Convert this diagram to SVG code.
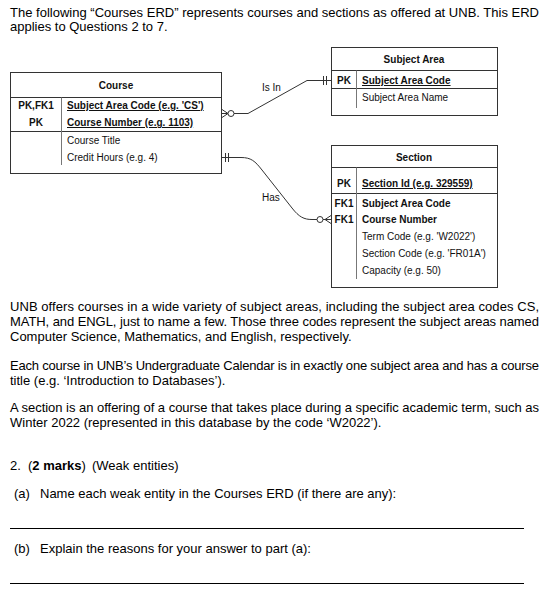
<svg xmlns="http://www.w3.org/2000/svg" width="549" height="594" viewBox="0 0 549 594">
<style>
.t{font-family:"Liberation Sans",Arial,sans-serif;font-size:13px;fill:#000}
.e{font-family:"Liberation Sans",Arial,sans-serif;font-size:10px;fill:#111}
.b{font-weight:bold}
.u{text-decoration:underline}
.c{text-anchor:middle}
.box{fill:#fff;stroke:#333;stroke-width:1}
.ln{stroke:#333;stroke-width:1;fill:none}
.vd{stroke:#777;stroke-width:1}
.conn{stroke:#333;stroke-width:1;fill:none}
</style>
<rect width="549" height="594" fill="#fff"/>
<g id="intro">
<text class="t" x="10" y="17" textLength="529" lengthAdjust="spacing">The following “Courses ERD” represents courses and sections as offered at UNB. This ERD</text>
<text class="t" x="10" y="31">applies to Questions 2 to 7.</text>
</g>
<g id="course">
<rect class="box" x="10.5" y="72.5" width="211" height="101"/>
<line class="ln" x1="10.5" y1="97.5" x2="221.5" y2="97.5"/>
<line class="ln" x1="10.5" y1="131.5" x2="221.5" y2="131.5"/>
<line class="vd" x1="61.5" y1="97.5" x2="61.5" y2="165"/>
<text class="e b c" x="116" y="89">Course</text>
<text class="e b c" x="36" y="109">PK,FK1</text>
<text class="e b c" x="36" y="126">PK</text>
<text class="e b u" x="67" y="109">Subject Area Code (e.g. 'CS')</text>
<text class="e b u" x="67" y="126">Course Number (e.g. 1103)</text>
<text class="e" x="67" y="144">Course Title</text>
<text class="e" x="67" y="161">Credit Hours (e.g. 4)</text>
</g>
<g id="subject-area">
<rect class="box" x="331.5" y="47.5" width="166" height="68"/>
<line class="ln" x1="331.5" y1="70.5" x2="497.5" y2="70.5"/>
<line class="ln" x1="331.5" y1="88.5" x2="497.5" y2="88.5"/>
<line class="vd" x1="356.5" y1="70.5" x2="356.5" y2="108"/>
<text class="e b c" x="414" y="63">Subject Area</text>
<text class="e b c" x="344" y="84">PK</text>
<text class="e b u" x="362" y="84">Subject Area Code</text>
<text class="e" x="362" y="101">Subject Area Name</text>
</g>
<g id="section">
<rect class="box" x="331.5" y="145.5" width="166" height="142"/>
<line class="ln" x1="331.5" y1="167.5" x2="497.5" y2="167.5"/>
<line class="ln" x1="331.5" y1="193.5" x2="497.5" y2="193.5"/>
<line class="vd" x1="356.5" y1="167.5" x2="356.5" y2="279"/>
<text class="e b c" x="414" y="161">Section</text>
<text class="e b c" x="344" y="187">PK</text>
<text class="e b u" x="362" y="187">Section Id (e.g. 329559)</text>
<text class="e b c" x="344" y="207">FK1</text>
<text class="e b" x="362" y="207">Subject Area Code</text>
<text class="e b c" x="344" y="223">FK1</text>
<text class="e b" x="362" y="223">Course Number</text>
<text class="e" x="362" y="240">Term Code (e.g. 'W2022')</text>
<text class="e" x="362" y="257">Section Code (e.g. 'FR01A')</text>
<text class="e" x="362" y="274">Capacity (e.g. 50)</text>
</g>
<g id="connectors">
<path class="conn" d="M234,113.5 L248,113.5 L307,80.5 L331,80.5"/>
<path class="conn" d="M222,109.5 L228,113.5 M222,113.5 L228,113.5 M222,117.5 L228,113.5"/>
<circle class="conn" cx="231" cy="113.5" r="3"/>
<path class="conn" d="M323.5,76 L323.5,85 M326.5,76 L326.5,85"/>
<text class="e" x="262" y="91">Is In</text>
<path class="conn" d="M222,157.5 L241,157.5 C251,157.5 255,161 262,170 L292,208 C299,217 304,219.5 312,219.5 L317,219.5"/>
<path class="conn" d="M225.5,153 L225.5,162 M228.5,153 L228.5,162"/>
<circle class="conn" cx="320" cy="219.5" r="3"/>
<path class="conn" d="M323,219.5 L331,219.5 M325,219.5 L331,215.5 M325,219.5 L331,223.5"/>
<text class="e" x="262" y="201">Has</text>
</g>
<g id="body">
<text class="t" x="10" y="311" textLength="529" lengthAdjust="spacing">UNB offers courses in a wide variety of subject areas, including the subject area codes CS,</text>
<text class="t" x="10" y="326" textLength="529" lengthAdjust="spacing">MATH, and ENGL, just to name a few. Those three codes represent the subject areas named</text>
<text class="t" x="10" y="341">Computer Science, Mathematics, and English, respectively.</text>
<text class="t" x="10" y="370" textLength="529" lengthAdjust="spacing">Each course in UNB’s Undergraduate Calendar is in exactly one subject area and has a course</text>
<text class="t" x="10" y="385">title (e.g. ‘Introduction to Databases’).</text>
<text class="t" x="10" y="412" textLength="529" lengthAdjust="spacing">A section is an offering of a course that takes place during a specific academic term, such as</text>
<text class="t" x="10" y="427">Winter 2022 (represented in this database by the code ‘W2022’).</text>
<text class="t" x="10" y="470">2.</text>
<text class="t" x="28" y="470">(<tspan class="b">2 marks</tspan>)</text>
<text class="t" x="92" y="470">(Weak entities)</text>
<text class="t" x="14" y="498">(a)</text>
<text class="t" x="40" y="498">Name each weak entity in the Courses ERD (if there are any):</text>
<line x1="10" y1="528.5" x2="524" y2="528.5" stroke="#000" stroke-width="1"/>
<text class="t" x="14" y="553">(b)</text>
<text class="t" x="40" y="553">Explain the reasons for your answer to part (a):</text>
<line x1="10" y1="583.5" x2="524" y2="583.5" stroke="#000" stroke-width="1"/>
</g>
</svg>
